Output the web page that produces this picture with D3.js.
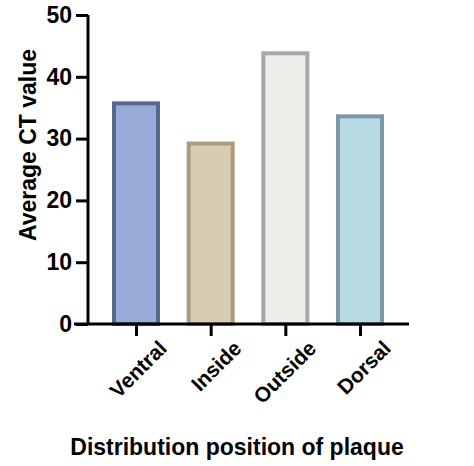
<!DOCTYPE html><html><head><script src="https://cdn.jsdelivr.net/npm/d3@7"></script>
<style>body{margin:0;background:#fff}text{font-family:"Liberation Sans",Arial,sans-serif;font-weight:bold}</style></head><body>
<svg id="c" width="474" height="466"></svg>
<script>
const categories=["Ventral","Inside","Outside","Dorsal"];
const values=[35.7,29.2,43.8,33.6];
const fills=["#98abd6","#d9ccb4","#efeeea","#b8d8e3"];
const strokes=["#56698c","#ad9c7c","#a8a8a6","#7b98a3"];
const yTicks=[0,10,20,30,40,50];
const svg=d3.select("#c");
const y=d3.scaleLinear().domain([0,50]).range([324,15]);
const x=d3.scalePoint().domain(categories).range([136,360]);
const bw=44;
svg.selectAll("rect").data(values).join("rect")
 .attr("x",(d,i)=>x(categories[i])-bw/2).attr("y",d=>y(d)).attr("width",bw).attr("height",d=>y(0)-y(d))
 .attr("fill",(d,i)=>fills[i]).attr("stroke",(d,i)=>strokes[i]).attr("stroke-width",4);
const ya=svg.append("g").attr("transform","translate(88,0)").call(d3.axisLeft(y).tickValues(yTicks).tickSize(12).tickPadding(4));
ya.select(".domain").attr("stroke-width",3).attr("d","M0,15V324");
ya.selectAll(".tick line").attr("stroke-width",3);
ya.selectAll("text").attr("font-size",23).attr("fill","#000");
const xa=svg.append("g").attr("transform","translate(0,324)").call(d3.axisBottom(x).tickSize(12).tickPadding(6));
xa.select(".domain").attr("stroke-width",3).attr("d","M74,0H409");
xa.selectAll(".tick line").attr("stroke-width",3);
xa.selectAll("text").attr("font-size",21).attr("fill","#000").attr("text-anchor","end")
 .attr("transform","translate(10,4) rotate(-45)").attr("dy","0.6em");
svg.append("text").attr("x",237).attr("y",455).attr("text-anchor","middle").attr("font-size",23).text("Distribution position of plaque");
svg.append("text").attr("transform","translate(36,145) rotate(-90)").attr("text-anchor","middle").attr("font-size",23).text("Average CT value");
</script></body></html>
